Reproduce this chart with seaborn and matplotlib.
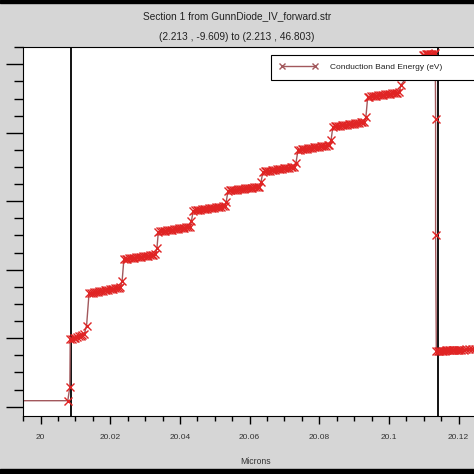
import pandas as pd
import matplotlib
matplotlib.use("Agg")
import matplotlib.pyplot as plt
from matplotlib.patches import Rectangle
from matplotlib.ticker import MultipleLocator, FuncFormatter
import seaborn as sns

# cut line data: x in microns, conduction band energy in eV
lead_x = [19.9900, 20.0078, 20.0084]
lead_y = [0.0175, 0.0175, 0.0584]

step1_x = [20.0085, 20.0090, 20.0095, 20.0100, 20.0105, 20.0110, 20.0115,
           20.0120, 20.0125, 20.0132]
step1_y = [0.197, 0.199, 0.201, 0.202, 0.204, 0.206, 0.207, 0.209, 0.211, 0.237]

step2_x = [20.0139, 20.0144, 20.0149, 20.0154, 20.0159, 20.0164, 20.0169,
           20.0174, 20.0179, 20.0184, 20.0189, 20.0194, 20.0199, 20.0204,
           20.0209, 20.0214, 20.0219, 20.0224, 20.0229, 20.0234]
step2_y = [0.331, 0.332, 0.333, 0.334, 0.335, 0.336, 0.337,
           0.338, 0.339, 0.340, 0.341, 0.342, 0.343, 0.344,
           0.345, 0.346, 0.347, 0.348, 0.349, 0.367]

step3_x = [20.0239, 20.0244, 20.0249, 20.0254, 20.0259, 20.0264, 20.0269,
           20.0274, 20.0279, 20.0284, 20.0289, 20.0294, 20.0299, 20.0304,
           20.0309, 20.0314, 20.0319, 20.0324, 20.0329, 20.0334]
step3_y = [0.430, 0.431, 0.432, 0.433, 0.433, 0.434, 0.435,
           0.436, 0.437, 0.437, 0.438, 0.439, 0.440, 0.441,
           0.441, 0.442, 0.443, 0.444, 0.445, 0.463]

step4_x = [20.0338, 20.0343, 20.0348, 20.0353, 20.0358, 20.0363, 20.0368,
           20.0373, 20.0378, 20.0383, 20.0388, 20.0393, 20.0398, 20.0403,
           20.0408, 20.0413, 20.0418, 20.0423, 20.0428, 20.0433]
step4_y = [0.511, 0.512, 0.513, 0.513, 0.514, 0.515, 0.516,
           0.517, 0.517, 0.518, 0.519, 0.520, 0.521, 0.521,
           0.522, 0.523, 0.524, 0.525, 0.526, 0.542]

step5_x = [20.0438, 20.0443, 20.0448, 20.0453, 20.0458, 20.0463, 20.0468,
           20.0473, 20.0478, 20.0483, 20.0488, 20.0493, 20.0498, 20.0503,
           20.0508, 20.0513, 20.0518, 20.0523, 20.0528, 20.0533]
step5_y = [0.572, 0.573, 0.574, 0.574, 0.575, 0.576, 0.577,
           0.577, 0.578, 0.579, 0.580, 0.580, 0.581, 0.582,
           0.583, 0.583, 0.584, 0.585, 0.586, 0.599]

step6_x = [20.0538, 20.0543, 20.0548, 20.0553, 20.0558, 20.0563, 20.0568,
           20.0573, 20.0578, 20.0583, 20.0588, 20.0593, 20.0598, 20.0603,
           20.0608, 20.0613, 20.0618, 20.0623, 20.0628, 20.0633]
step6_y = [0.631, 0.632, 0.632, 0.633, 0.634, 0.634, 0.635,
           0.636, 0.636, 0.637, 0.638, 0.638, 0.639, 0.640,
           0.640, 0.641, 0.642, 0.642, 0.643, 0.657]

step7_x = [20.0638, 20.0643, 20.0648, 20.0653, 20.0658, 20.0663, 20.0668,
           20.0673, 20.0678, 20.0683, 20.0688, 20.0693, 20.0698, 20.0703,
           20.0708, 20.0713, 20.0718, 20.0723, 20.0728, 20.0733]
step7_y = [0.686, 0.687, 0.688, 0.689, 0.689, 0.690, 0.691,
           0.692, 0.693, 0.693, 0.694, 0.695, 0.696, 0.697,
           0.697, 0.698, 0.699, 0.700, 0.701, 0.711]

step8_x = [20.0739, 20.0744, 20.0749, 20.0754, 20.0759, 20.0764, 20.0769,
           20.0774, 20.0779, 20.0784, 20.0789, 20.0794, 20.0799, 20.0804,
           20.0809, 20.0814, 20.0819, 20.0824, 20.0829, 20.0834]
step8_y = [0.750, 0.751, 0.752, 0.752, 0.753, 0.754, 0.755,
           0.755, 0.756, 0.757, 0.758, 0.758, 0.759, 0.760,
           0.761, 0.761, 0.762, 0.763, 0.764, 0.779]

step9_x = [20.0839, 20.0844, 20.0849, 20.0854, 20.0859, 20.0864, 20.0869,
           20.0874, 20.0879, 20.0884, 20.0889, 20.0894, 20.0899, 20.0904,
           20.0909, 20.0914, 20.0919, 20.0924, 20.0929, 20.0934]
step9_y = [0.818, 0.819, 0.820, 0.820, 0.821, 0.822, 0.823,
           0.823, 0.824, 0.825, 0.826, 0.826, 0.827, 0.828,
           0.829, 0.829, 0.830, 0.831, 0.832, 0.847]

step10_x = [20.0939, 20.0944, 20.0949, 20.0954, 20.0959, 20.0964, 20.0969,
            20.0974, 20.0979, 20.0984, 20.0989, 20.0994, 20.0999, 20.1004,
            20.1009, 20.1014, 20.1019, 20.1024, 20.1029, 20.1035]
step10_y = [0.904, 0.905, 0.906, 0.906, 0.907, 0.908, 0.909,
            0.909, 0.910, 0.911, 0.912, 0.912, 0.913, 0.914,
            0.915, 0.915, 0.916, 0.917, 0.918, 0.940]

peak_x = [20.1097, 20.1101, 20.1105, 20.1109, 20.1113, 20.1117, 20.1121,
          20.1125, 20.1129, 20.1133, 20.1134, 20.1134]
peak_y = [1.028, 1.028, 1.029, 1.029, 1.030, 1.030, 1.030,
          1.031, 1.031, 1.032, 0.841, 0.502]

tail_x = [20.1136, 20.1140, 20.1144, 20.1148, 20.1152, 20.1156, 20.1160,
          20.1164, 20.1168, 20.1172, 20.1176, 20.1180, 20.1184, 20.1188,
          20.1192, 20.1197, 20.1202, 20.1208, 20.1215, 20.1222, 20.1230,
          20.1238, 20.1246, 20.1255]
tail_y = [0.163, 0.163, 0.163, 0.164, 0.164, 0.164, 0.164,
          0.165, 0.165, 0.165, 0.165, 0.165, 0.166, 0.166,
          0.166, 0.166, 0.167, 0.167, 0.167, 0.168, 0.168,
          0.168, 0.169, 0.169]

# region boundaries (black vertical lines)
boundaries = [20.0088, 20.1141]

title_line1 = "Section 1 from GunnDiode_IV_forward.str"
title_line2 = "(2.213 , -9.609) to (2.213 , 46.803)"

xs = lead_x + step1_x + step2_x + step3_x + step4_x + step5_x + step6_x \
    + step7_x + step8_x + step9_x + step10_x + peak_x + tail_x
ys = lead_y + step1_y + step2_y + step3_y + step4_y + step5_y + step6_y \
    + step7_y + step8_y + step9_y + step10_y + peak_y + tail_y
df = pd.DataFrame({"Microns": xs, "Energy": ys})

sns.set_style("ticks")
plt.rcParams["font.family"] = ["Liberation Sans", "DejaVu Sans"]

fig = plt.figure(figsize=(4.74, 4.74), dpi=100)
fig.patch.set_facecolor("#d6d6d6")
ax = fig.add_axes([22.5 / 474, 58 / 474, 457 / 474, 369 / 474])
ax.set_facecolor("white")

for b in boundaries:
    ax.axvline(b, color="black", linewidth=1.3, zorder=1.5)

line_col = "#a2585c"
sns.lineplot(data=df, x="Microns", y="Energy", sort=False, estimator=None,
             marker="x", markersize=5.4, markeredgecolor="#e02424",
             markeredgewidth=1.0, color=line_col, linewidth=1,
             label="Conduction Band Energy (eV)", ax=ax, zorder=2)

ax.set_xlim(19.9948, 20.126)
ax.set_ylim(-0.0272, 1.0505)
ax.xaxis.set_major_locator(MultipleLocator(0.02))
ax.xaxis.set_minor_locator(MultipleLocator(0.005))
ax.xaxis.set_major_formatter(FuncFormatter(lambda v, p: f"{v:g}"))
ax.yaxis.set_major_locator(MultipleLocator(0.2))
ax.yaxis.set_minor_locator(MultipleLocator(0.05))

ax.tick_params(axis="x", which="major", length=5.8, width=1, pad=7,
               labelsize=6, labelcolor="#333333", color="black")
ax.tick_params(axis="x", which="minor", length=3.6, width=1, color="black")
ax.tick_params(axis="y", which="major", length=12, width=1, labelleft=False,
               color="black")
ax.tick_params(axis="y", which="minor", length=6.7, width=1, color="black")

for s in ax.spines.values():
    s.set_color("black")
    s.set_linewidth(0.8)

ax.set_ylabel("")
ax.set_xlabel("Microns", fontsize=6.2, color="#333333")
ax.xaxis.set_label_coords(0.511, -0.111)

leg = ax.legend(loc="upper left",
                bbox_to_anchor=(271 / 474, 1 - 82 / 474, 0.5, 27 / 474),
                bbox_transform=fig.transFigure, mode="expand", borderaxespad=0,
                fontsize=6, borderpad=1.0, handlelength=4.6, handletextpad=1.5,
                numpoints=2, fancybox=False, framealpha=1)
leg.get_frame().set_edgecolor("black")
leg.get_frame().set_linewidth(0.8)
for h in leg.legend_handles:
    h.set_markeredgecolor(line_col)
    h.set_markersize(4.6)
for t in leg.get_texts():
    t.set_color("#222222")

fig.text(237 / 474, 1 - 15.7 / 474, title_line1, ha="center", va="center",
         fontsize=7.3, color="#222222")
fig.text(236.5 / 474, 1 - 36.7 / 474, title_line2, ha="center", va="center",
         fontsize=7.3, color="#222222")

# black bands at top and bottom of the screenshot
fig.add_artist(Rectangle((0, 1 - 3 / 474), 1, 3 / 474, transform=fig.transFigure,
                         color="black", zorder=10))
fig.add_artist(Rectangle((0, 0), 1, 5 / 474, transform=fig.transFigure,
                         color="black", zorder=10))

fig.savefig("out.png", dpi=100, facecolor=fig.get_facecolor())
